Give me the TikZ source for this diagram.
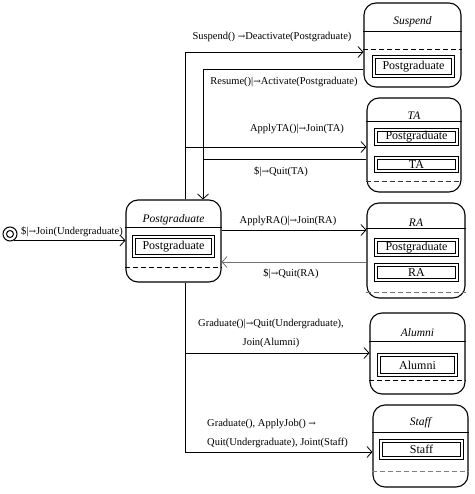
\documentclass[tikz,border=0pt]{standalone}
\usepackage{fontspec}
\setmainfont{Liberation Serif}
\newfontfamily\arrfont{DejaVu Serif}
\newcommand\arw{{\arrfont\fontsize{9}{10}\selectfont →}}
\usetikzlibrary{arrows.meta,calc}
\newcommand\innerbox[6]{%
  \node[inbox, minimum width=#4pt-6.5pt, minimum height=#5pt-6.5pt] (#1) at (#2,#3) {#6};
  \draw[line width=1.5pt] ($(#1.north west)+(-2.5,-2.5)$) rectangle ($(#1.south east)+(2.5,2.5)$);}
\newcommand\statebox[9]{% name, cx, cy, w, h, title, titley, liney, dashy
  \node[st, minimum width=#4pt, minimum height=#5pt] (#1) at (#2,#3) {};
  \node[ttl] (#1t) at (#2,#7) {#6};
  \draw[sep] (#1.west |- 0,#8) -- (#1.east |- 0,#8);
  \coordinate (#1d) at (#2,#9);}
\begin{document}
\begin{tikzpicture}[x=1pt,y=-1pt,
  lbl/.style={font=\fontsize{10.5}{12}\selectfont, inner sep=0pt},
  ttl/.style={font=\fontsize{11.5}{13}\selectfont\itshape, inner sep=0pt},
  st/.style={draw, line width=1.1pt, rounded corners=12pt, inner sep=0pt},
  sep/.style={line width=0.8pt},
  dsh/.style={line width=0.9pt, dash pattern=on 5pt off 3pt},
  inbox/.style={draw, line width=0.6pt, inner sep=0pt, font=\fontsize{12}{14}\selectfont},
  conn/.style={line width=0.8pt},
  arr/.style={conn, -{Straight Barb[length=5pt,width=11pt]}}
]
\useasboundingbox (0,0) rectangle (474,494);

% states
\statebox{pg}{173.5}{241}{95}{82}{Postgraduate}{220}{227}{267}
\statebox{susp}{412.5}{45}{97}{84}{Suspend}{22}{31}{49}
\statebox{ta}{414}{145}{94}{94}{TA}{116}{121}{181}
\statebox{ra}{416}{250.5}{98}{95}{RA}{223}{228}{292}
\statebox{al}{417.5}{353.5}{95}{81}{Alumni}{333}{341}{380}
\statebox{sf}{420.5}{446}{95}{82}{Staff}{423}{432}{471}

\draw[dsh] (pg.west |- pgd) -- (pg.east |- pgd);
\draw[dsh] (susp.west |- suspd) -- (susp.east |- suspd);
\draw[dsh, black!80] (ta.west |- tad) -- (ta.east |- tad);
\draw[dsh, black!55] (ra.west |- rad) -- (ra.east |- rad);
\draw[dsh] (al.west |- ald) -- (al.east |- ald);
\draw[dsh, black!50] (sf.west |- sfd) -- (sf.east |- sfd);

% inner boxes
\innerbox{pgi}{173.5}{246.5}{83}{23}{Postgraduate}
\innerbox{suspi}{413.5}{66.5}{83}{23}{Postgraduate}
\innerbox{tai}{416.5}{137}{85}{18}{Postgraduate}
\innerbox{taii}{416.5}{164.5}{85}{17}{TA}
\innerbox{rai}{416.5}{247.5}{85}{19}{Postgraduate}
\innerbox{raii}{416.5}{272.5}{85}{19}{RA}
\innerbox{ali}{417.5}{365}{81}{24}{Alumni}
\innerbox{sfi}{421.5}{449.5}{85}{21}{Staff}

% initial state
\node[draw, circle, minimum size=14pt, inner sep=0pt, line width=1pt] (init) at (10,234) {};
\node[draw, circle, minimum size=7pt, inner sep=0pt, line width=1pt] (initin) at (init) {};
\draw[arr] (init.-60) -- (init.-60 -| pg.west);
\node[lbl] (l0) at (72,232) {\$|\arw Join(Undergraduate)};

% Suspend / Resume
\coordinate (s1) at (185,52);
\draw[arr] (pg.north -| s1) -- (s1) -- (s1 -| susp.west);
\node[lbl] (l1) at (272,37) {Suspend() \arw Deactivate(Postgraduate)};
\coordinate (r1) at (203,69);
\draw[arr] (r1 -| susp.west) -- (r1) -- (r1 |- pg.north);
\node[lbl] (l2) at (284,82) {Resume()|\arw Activate(Postgraduate)};

% TA
\coordinate (t1) at (185,147);
\draw[arr] (t1) -- (t1 -| ta.west);
\node[lbl] (l3) at (297,129) {ApplyTA()|\arw Join(TA)};
\coordinate (t2) at (203,159);
\draw[conn] (t2 -| ta.west) -- (t2);
\node[lbl] (l4) at (281,172) {\$|\arw Quit(TA)};

% RA
\coordinate (a1) at (0,230);
\draw[arr] (a1 -| pg.east) -- (a1 -| ra.west);
\node[lbl] (l5) at (288,221) {ApplyRA()|\arw Join(RA)};
\coordinate (a2) at (0,262);
\draw[arr, black!55] (a2 -| ra.west) -- (a2 -| pg.east);
\node[lbl] (l6) at (291,274) {\$|\arw Quit(RA)};

% Alumni / Staff
\coordinate (g1) at (185,353);
\coordinate (g2) at (185,452);
\draw[arr] (pg.south -| g2) -- (g2) -- (g2 -| sf.west);
\draw[arr] (g1) -- (g1 -| al.west);
\node[lbl] (l7) at (271,324) {Graduate()|\arw Quit(Undergraduate),};
\node[lbl] (l8) at (271,343) {Join(Alumni)};
\node[lbl, anchor=west] (l9) at (207,424) {Graduate(), ApplyJob() \arw};
\node[lbl, anchor=west] (l10) at (207,443) {Quit(Undergraduate), Joint(Staff)};
\end{tikzpicture}
\end{document}
